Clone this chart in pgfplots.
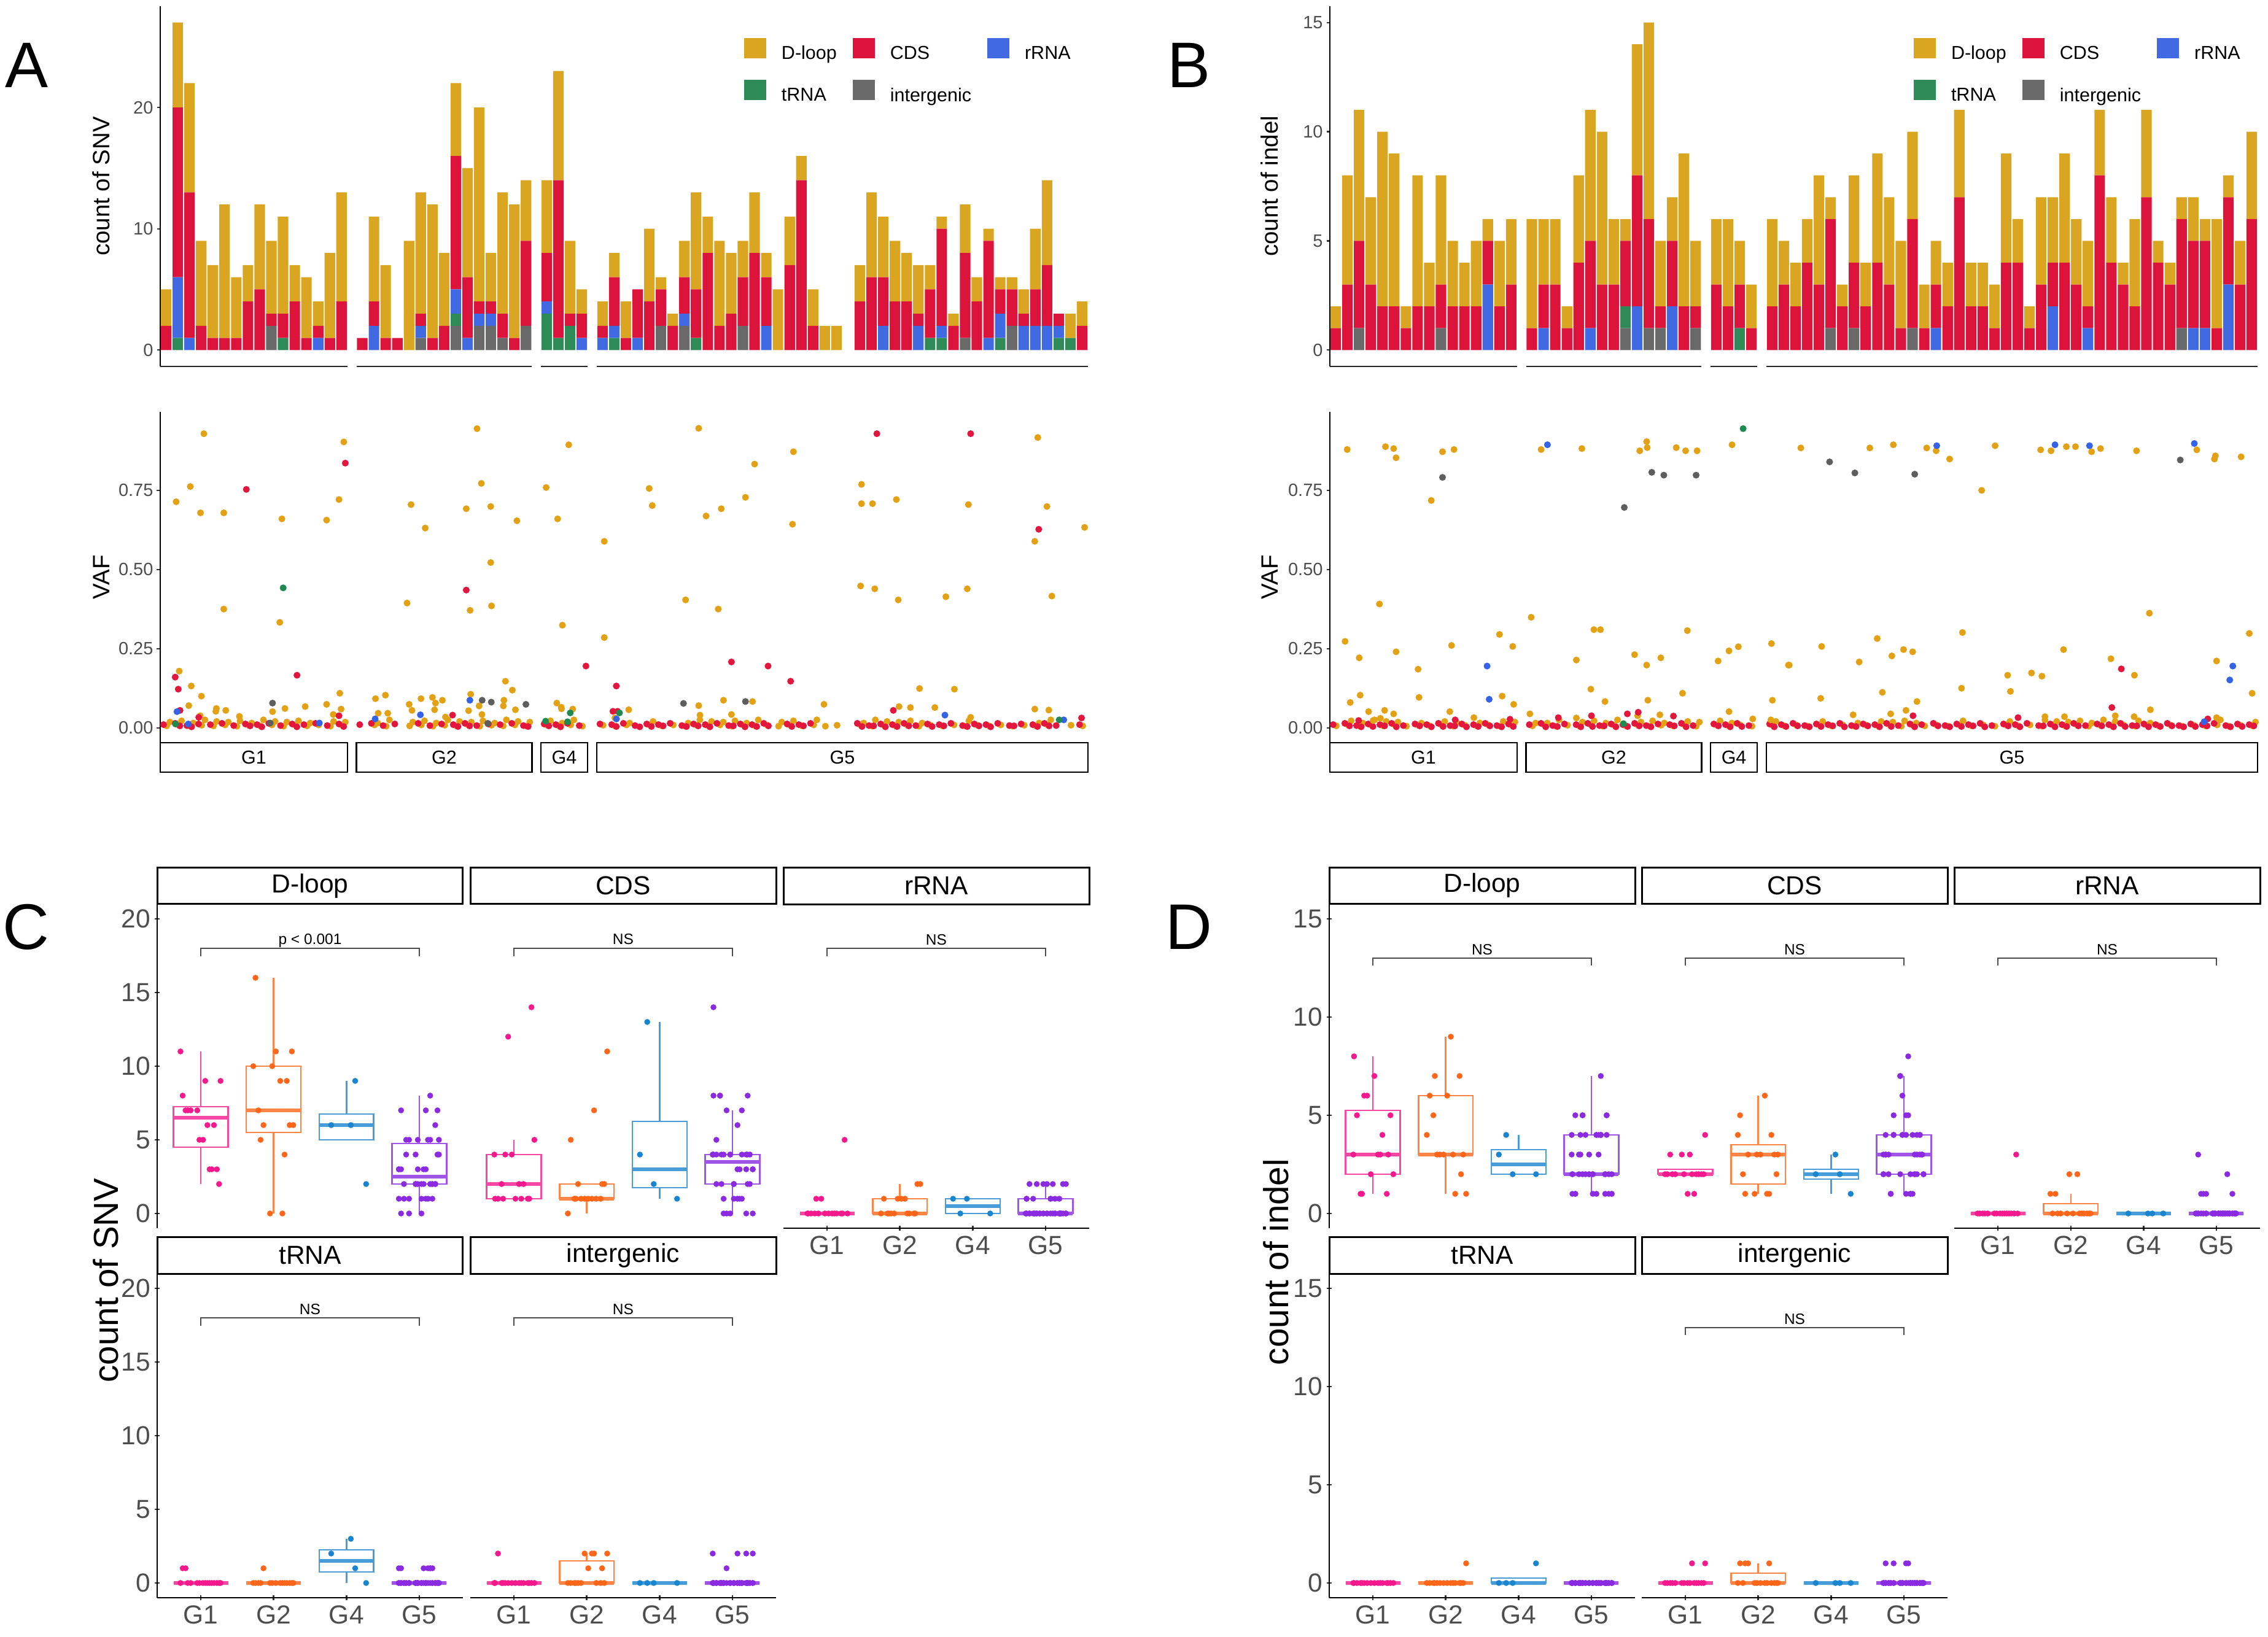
\documentclass[border=0pt]{standalone}
\usepackage{fontspec}
\setmainfont{Liberation Sans}
\usepackage{pgfplots}
\pgfplotsset{compat=1.18}
\usepackage{pgfplotstable}
\usepgfplotslibrary{statistics}

\definecolor{cDL}{HTML}{DAA520}
\definecolor{cCDS}{HTML}{DC143C}
\definecolor{cRR}{HTML}{4169E1}
\definecolor{cTR}{HTML}{2E8B57}
\definecolor{cIG}{HTML}{696969}
\definecolor{pDL}{HTML}{E3A215}
\definecolor{pCDS}{HTML}{E3173E}
\definecolor{pRR}{HTML}{3463E8}
\definecolor{pTR}{HTML}{1E8A52}
\definecolor{pIG}{HTML}{5E5E5E}
\definecolor{cg1}{HTML}{F5198D}
\definecolor{cg2}{HTML}{FF6619}
\definecolor{cg4}{HTML}{1985CF}
\definecolor{cg5}{HTML}{8A2BE2}
\definecolor{tickgray}{HTML}{4D4D4D}

\newcommand{\fsA}{\fontsize{5.8}{7}\selectfont}
\newcommand{\fsT}{\fontsize{7.7}{9}\selectfont}
\newcommand{\fsC}{\fontsize{8.5}{10}\selectfont}
\newcommand{\fsY}{\fontsize{11.3}{13}\selectfont}
\newcommand{\fsS}{\fontsize{4.9}{6}\selectfont}
\newcommand{\fsL}{\fontsize{21}{24}\selectfont}

% per sample counts: SNV (panel A, C)
% bx = bar position, g = group (1 G1, 2 G2, 3 G4, 4 G5), j/k = jitter
% ra rb ga gb = low VAF values of the dense band
\pgfplotstableread{
bx g j k ig tr rr cds dl ra rb ga gb
0.5 1 0.12 -0.17 0 0 0 2 3 0.010 nan 0.006 0.018
1.5 1 -0.21 0.24 0 1 5 14 7 0.014 0.006 0.009 0.022
2.5 1 0.27 -0.08 0 0 1 12 9 0.007 0.003 0.005 0.015
3.5 1 -0.05 0.13 0 0 0 2 7 0.012 nan 0.008 0.025
4.5 1 0.18 -0.26 0 0 0 1 6 0.010 nan 0.006 0.020
5.5 1 -0.28 0.02 0 0 0 1 11 0.014 nan 0.009 0.018
6.5 1 0.03 0.19 0 0 0 1 5 0.007 nan 0.005 0.022
7.5 1 0.22 -0.12 0 0 0 4 3 0.012 0.006 0.008 0.015
8.5 1 -0.14 0.28 0 0 0 5 7 0.010 0.003 0.006 0.025
9.5 1 0.09 -0.22 2 0 0 1 6 0.014 nan 0.009 0.020
10.5 1 -0.25 0.07 0 1 0 2 8 0.007 nan 0.005 0.018
11.5 1 0.15 -0.03 0 0 0 4 3 0.012 0.003 0.008 0.022
12.5 1 -0.02 0.21 0 0 0 1 5 0.010 nan 0.006 0.015
13.5 1 0.25 -0.15 0 0 1 1 2 0.014 nan 0.009 nan
14.5 1 -0.18 0.10 0 0 0 1 7 0.007 nan 0.005 0.020
15.5 1 0.06 -0.27 0 0 0 4 9 0.012 0.004 0.008 0.018
17.27 2 0.12 -0.17 0 0 0 1 0 0.010 nan nan nan
18.27 2 -0.21 0.24 0 0 2 2 7 0.014 nan 0.009 0.015
19.27 2 0.27 -0.08 0 0 0 1 6 0.007 nan 0.005 0.025
20.27 2 -0.05 0.13 0 0 0 1 0 0.012 nan nan nan
21.27 2 0.18 -0.26 0 0 0 0 9 nan nan 0.006 0.018
22.27 2 -0.28 0.02 1 0 1 1 10 0.014 nan 0.009 0.022
23.27 2 0.03 0.19 0 0 0 1 11 0.007 nan 0.005 0.015
24.27 2 0.22 -0.12 0 0 0 2 6 0.012 nan 0.008 0.025
25.27 2 -0.14 0.28 2 1 2 11 6 0.010 0.004 0.006 0.020
26.27 2 0.09 -0.22 0 0 1 5 9 0.014 0.006 0.009 0.018
27.27 2 -0.25 0.07 2 0 1 1 16 0.007 nan 0.005 0.022
28.27 2 0.15 -0.03 2 0 1 1 4 0.012 nan 0.008 0.015
29.27 2 -0.02 0.21 1 0 0 2 10 0.010 nan 0.006 0.025
30.27 2 0.25 -0.15 0 0 0 1 11 0.014 nan 0.009 0.020
31.27 2 -0.18 0.10 2 0 0 7 5 0.007 0.004 0.005 0.018
33.04 3 0.06 -0.27 0 3 1 4 6 0.012 0.006 0.008 0.022
34.04 3 0.12 -0.17 0 1 0 13 9 0.010 0.003 0.006 0.015
35.04 3 -0.21 0.24 0 2 0 1 6 0.014 nan 0.009 0.025
36.04 3 0.27 -0.08 0 0 1 2 2 0.007 nan 0.005 nan
37.81 4 -0.05 0.13 0 0 1 1 2 0.012 nan 0.008 nan
38.81 4 0.18 -0.26 0 1 1 4 2 0.010 0.004 0.006 nan
39.81 4 -0.28 0.02 0 0 0 1 3 0.014 nan 0.009 0.015
40.81 4 0.03 0.19 0 0 1 4 0 0.007 0.003 nan nan
41.81 4 0.22 -0.12 0 0 0 4 6 0.012 0.004 0.008 0.020
42.81 4 -0.14 0.28 2 0 0 3 1 0.010 0.006 0.006 nan
43.81 4 0.09 -0.22 0 0 0 2 1 0.014 nan 0.009 nan
44.81 4 -0.25 0.07 2 0 1 3 3 0.007 0.004 0.005 0.015
45.81 4 0.15 -0.03 0 1 0 4 8 0.012 0.006 0.008 0.025
46.81 4 -0.02 0.21 0 0 0 8 3 0.010 0.003 0.006 0.020
47.81 4 0.25 -0.15 0 0 0 2 7 0.014 nan 0.009 0.018
48.81 4 -0.18 0.10 0 0 0 3 5 0.007 0.006 0.005 0.022
49.81 4 0.06 -0.27 2 0 0 4 3 0.012 0.003 0.008 0.015
50.81 4 0.12 -0.17 0 0 0 8 5 0.010 0.004 0.006 0.025
51.81 4 -0.21 0.24 0 0 2 4 2 0.014 0.006 0.009 nan
52.81 4 0.27 -0.08 0 0 0 0 5 nan nan 0.005 0.018
53.81 4 -0.05 0.13 0 0 0 7 4 0.012 0.004 0.008 0.022
54.81 4 0.18 -0.26 0 0 0 14 2 0.010 0.006 0.006 nan
55.81 4 -0.28 0.02 0 0 0 2 3 0.014 nan 0.009 0.025
56.81 4 0.03 0.19 0 0 0 0 2 nan nan 0.005 nan
57.81 4 0.22 -0.12 0 0 0 0 2 nan nan 0.008 nan
58.81 4 -0.14 0.28 0 0 0 0 0 nan nan nan nan
59.81 4 0.09 -0.22 0 0 0 4 3 0.014 0.004 0.009 0.015
60.81 4 -0.25 0.07 0 0 0 6 7 0.007 0.006 0.005 0.025
61.81 4 0.15 -0.03 0 0 2 4 5 0.012 0.003 0.008 0.020
62.81 4 -0.02 0.21 0 0 0 4 5 0.010 0.004 0.006 0.018
63.81 4 0.25 -0.15 0 0 0 4 4 0.014 0.006 0.009 0.022
64.81 4 -0.18 0.10 0 0 2 1 4 0.007 nan 0.005 0.015
65.81 4 0.06 -0.27 0 1 0 4 2 0.012 0.004 0.008 nan
66.81 4 0.12 -0.17 0 1 1 8 1 0.010 0.006 0.006 nan
67.81 4 -0.21 0.24 0 0 0 2 1 0.014 nan 0.009 nan
68.81 4 0.27 -0.08 1 0 0 7 4 0.007 0.004 0.005 0.022
69.81 4 -0.05 0.13 0 0 0 4 2 0.012 0.006 0.008 nan
70.81 4 0.18 -0.26 0 0 1 8 1 0.010 0.003 0.006 nan
71.81 4 -0.28 0.02 0 1 2 2 1 0.014 nan 0.009 nan
72.81 4 0.03 0.19 2 0 0 3 1 0.007 0.006 0.005 nan
73.81 4 0.22 -0.12 0 0 2 1 2 0.012 nan 0.008 nan
74.81 4 -0.14 0.28 0 0 2 3 5 0.010 0.004 0.006 0.015
75.81 4 0.09 -0.22 0 0 2 5 7 0.014 0.006 0.009 0.025
76.81 4 -0.25 0.07 0 1 1 1 0 0.007 nan nan nan
77.81 4 0.15 -0.03 0 1 0 0 2 nan nan 0.008 nan
78.81 4 -0.02 0.21 0 0 0 2 2 0.010 nan 0.006 nan
}\snv

% per sample counts: indel (panel B, D)
\pgfplotstableread{
bx g j k ig tr rr cds dl ra rb ga gb
0.5 1 -0.17 0.12 0 0 0 1 1 0.010 nan 0.006 nan
1.5 1 0.24 -0.21 0 0 0 3 5 0.014 0.006 0.009 0.022
2.5 1 -0.08 0.27 1 0 0 4 6 0.007 0.003 0.005 0.015
3.5 1 0.13 -0.05 0 0 0 3 4 0.012 0.004 0.008 0.025
4.5 1 -0.26 0.18 0 0 0 2 8 0.010 0.006 0.006 0.020
5.5 1 0.02 -0.28 0 0 0 2 7 0.014 0.003 0.009 0.018
6.5 1 0.19 0.03 0 0 0 1 1 0.007 nan 0.005 nan
7.5 1 -0.12 0.22 0 0 0 2 6 0.012 0.006 0.008 0.015
8.5 1 0.28 -0.14 0 0 0 2 2 0.010 0.003 0.006 nan
9.5 1 -0.22 0.09 1 0 0 2 5 0.014 0.004 0.009 0.020
10.5 1 0.07 -0.25 0 0 0 2 3 0.007 0.006 0.005 0.018
11.5 1 -0.03 0.15 0 0 0 2 2 0.012 0.003 0.008 nan
12.5 1 0.21 -0.02 0 0 0 2 3 0.010 0.004 0.006 0.015
13.5 1 -0.15 0.25 0 0 3 2 1 0.014 0.006 0.009 nan
14.5 1 0.10 -0.18 0 0 0 2 3 0.007 0.003 0.005 0.020
15.5 1 -0.27 0.06 0 0 0 3 3 0.012 0.004 0.008 0.018
17.27 2 -0.17 0.12 0 0 0 1 5 0.010 nan 0.006 0.015
18.27 2 0.24 -0.21 0 0 1 2 3 0.014 0.003 0.009 0.015
19.27 2 -0.08 0.27 0 0 0 3 3 0.007 0.004 0.005 0.025
20.27 2 0.13 -0.05 0 0 0 1 1 0.012 nan 0.008 nan
21.27 2 -0.26 0.18 0 0 0 4 4 0.010 0.003 0.006 0.018
22.27 2 0.02 -0.28 0 0 1 4 6 0.014 0.004 0.009 0.022
23.27 2 0.19 0.03 0 0 0 3 7 0.007 0.006 0.005 0.015
24.27 2 -0.12 0.22 0 0 0 3 3 0.012 0.003 0.008 0.025
25.27 2 0.28 -0.14 1 1 0 3 1 0.010 0.004 0.006 nan
26.27 2 -0.22 0.09 0 0 2 6 6 0.014 0.006 0.009 0.018
27.27 2 0.07 -0.25 1 0 0 5 9 0.007 0.003 0.005 0.022
28.27 2 -0.03 0.15 1 0 0 1 3 0.012 nan 0.008 0.015
29.27 2 0.21 -0.02 0 0 2 3 2 0.010 0.006 0.006 nan
30.27 2 -0.15 0.25 0 0 0 2 7 0.014 0.003 0.009 0.020
31.27 2 0.10 -0.18 1 0 0 1 3 0.007 nan 0.005 0.018
33.04 3 -0.27 0.06 0 0 0 3 3 0.012 0.006 0.008 0.022
34.04 3 -0.17 0.12 0 0 0 2 4 0.010 0.003 0.006 0.015
35.04 3 0.24 -0.21 0 1 0 2 2 0.014 0.004 0.009 nan
36.04 3 -0.08 0.27 0 0 0 1 2 0.007 nan 0.005 nan
37.81 4 0.13 -0.05 0 0 0 2 4 0.012 0.003 0.008 0.020
38.81 4 -0.26 0.18 0 0 0 3 2 0.010 0.004 0.006 nan
39.81 4 0.02 -0.28 0 0 0 2 2 0.014 0.006 0.009 nan
40.81 4 0.19 0.03 0 0 0 4 2 0.007 0.003 0.005 nan
41.81 4 -0.12 0.22 0 0 0 3 5 0.012 0.004 0.008 0.020
42.81 4 0.28 -0.14 1 0 0 5 1 0.010 0.006 0.006 nan
43.81 4 -0.22 0.09 0 0 0 2 1 0.014 0.003 0.009 nan
44.81 4 0.07 -0.25 1 0 0 3 4 0.007 0.004 0.005 0.015
45.81 4 -0.03 0.15 0 0 0 2 2 0.012 0.006 0.008 nan
46.81 4 0.21 -0.02 0 0 0 4 5 0.010 0.003 0.006 0.020
47.81 4 -0.15 0.25 0 0 0 3 4 0.014 0.004 0.009 0.018
48.81 4 0.10 -0.18 0 0 0 1 4 0.007 nan 0.005 0.022
49.81 4 -0.27 0.06 1 0 0 5 4 0.012 0.003 0.008 0.015
50.81 4 -0.17 0.12 0 0 0 1 2 0.010 nan 0.006 nan
51.81 4 0.24 -0.21 0 0 1 2 2 0.014 0.006 0.009 nan
52.81 4 -0.08 0.27 0 0 0 2 2 0.007 0.003 0.005 nan
53.81 4 0.13 -0.05 0 0 0 7 4 0.012 0.004 0.008 0.022
54.81 4 -0.26 0.18 0 0 0 2 2 0.010 0.006 0.006 nan
55.81 4 0.02 -0.28 0 0 0 2 2 0.014 0.003 0.009 nan
56.81 4 0.19 0.03 0 0 0 1 2 0.007 nan 0.005 nan
57.81 4 -0.12 0.22 0 0 0 4 5 0.012 0.006 0.008 0.020
58.81 4 0.28 -0.14 0 0 0 4 2 0.010 0.003 0.006 nan
59.81 4 -0.22 0.09 0 0 0 1 1 0.014 nan 0.009 nan
60.81 4 0.07 -0.25 0 0 0 3 4 0.007 0.006 0.005 0.025
61.81 4 -0.03 0.15 0 0 2 2 3 0.012 0.003 0.008 0.020
62.81 4 0.21 -0.02 0 0 0 4 5 0.010 0.004 0.006 0.018
63.81 4 -0.15 0.25 0 0 0 3 3 0.014 0.006 0.009 0.022
64.81 4 0.10 -0.18 0 0 1 1 3 0.007 nan 0.005 0.015
65.81 4 -0.27 0.06 0 0 0 8 3 0.012 0.006 0.008 0.025
66.81 4 -0.17 0.12 0 0 0 4 3 0.010 0.003 0.006 0.020
67.81 4 0.24 -0.21 0 0 0 3 1 0.014 0.004 0.009 nan
68.81 4 -0.08 0.27 0 0 0 2 4 0.007 0.006 0.005 0.022
69.81 4 0.13 -0.05 0 0 0 7 4 0.012 0.003 0.008 0.015
70.81 4 -0.26 0.18 0 0 0 4 1 0.010 0.004 0.006 nan
71.81 4 0.02 -0.28 0 0 0 3 1 0.014 0.006 0.009 nan
72.81 4 0.19 0.03 1 0 0 5 1 0.007 0.003 0.005 nan
73.81 4 -0.12 0.22 0 0 1 4 2 0.012 0.004 0.008 nan
74.81 4 0.28 -0.14 0 0 1 4 1 0.010 0.006 0.006 nan
75.81 4 -0.22 0.09 0 0 0 1 5 0.014 nan 0.009 0.025
76.81 4 0.07 -0.25 0 0 3 4 1 0.007 0.003 0.005 nan
77.81 4 -0.03 0.15 0 0 0 3 2 0.012 0.004 0.008 nan
78.81 4 0.21 -0.02 0 0 0 6 4 0.010 0.006 0.006 0.018
}\ind

\pgfplotsset{
  sqleg/.style={legend image code/.code={\fill[##1] (0pt,-1.1pt) rectangle (7.2pt,5.5pt);}},
  barax/.style={scale only axis, anchor=south west, width=302.2pt, height=117.4pt,
    xmin=0, xmax=79.31, clip=false, axis x line=none, axis y line=left,
    axis line style={-, line width=0.45pt, black}, tick align=outside,
    tick style={line width=0.45pt, black!80}, major tick length=1.1pt,
    tick label style={font=\fsA, text=tickgray}, yticklabel style={inner sep=1pt},
    ybar stacked, bar width=0.9, every axis plot post/.append style={sqleg},
    legend columns=3, reverse legend, legend cell align=left,
    legend style={at={(0.6287,0.9131)}, anchor=north west, draw=none, fill=none,
      inner sep=0pt, font=\fontsize{6.1}{7}\selectfont, row sep=5.2pt, nodes={inner sep=0pt},
      /tikz/every odd column/.append style={column sep=5pt},
      /tikz/every even column/.append style={column sep=5.2pt}}},
  vafax/.style={scale only axis, anchor=south west, width=302.2pt, height=107.8pt,
    xmin=0, xmax=79.31, ymin=-0.0475, ymax=0.9975, clip=false,
    axis x line=none, axis y line=left,
    axis line style={-, line width=0.45pt, black}, tick align=outside,
    tick style={line width=0.45pt, black!80}, major tick length=1.1pt,
    tick label style={font=\fsA, text=tickgray}, yticklabel style={inner sep=1pt},
    ytick={0,0.25,0.5,0.75}, yticklabels={0.00,0.25,0.50,0.75}},
  vp/.style={only marks, mark=*, mark size=0.9pt, mark options={draw=none}},
  fac/.style={scale only axis, anchor=south west, width=99.6pt, height=105.6pt,
    xmin=0.4, xmax=4.6, clip=false, tick align=outside,
    tick style={line width=0.5pt, black!80}, major tick length=1.7pt,
    tick label style={font=\fsC, text=tickgray}, yticklabel style={inner sep=1.2pt},
    xticklabel style={inner sep=1.5pt},
    xtick={1,2,3,4}, xticklabels={G1,G2,G4,G5},
    boxplot/every median/.style={line width=1.1pt}},
  facC/.style={fac, ymin=-1, ymax=21, ytick={0,5,10,15,20}, yticklabels={0,5,10,15,20}},
  facD/.style={fac, ymin=-0.75, ymax=15.75, ytick={0,5,10,15}, yticklabels={0,5,10,15}},
  yonly/.style={axis y line=left, axis x line=none, axis line style={-, line width=0.5pt, black}},
  xonly/.style={axis x line=bottom, axis y line=none, axis line style={-, line width=0.5pt, black}},
  bothax/.style={axis x line=bottom, axis y line=left, axis line style={-, line width=0.5pt, black}},
  noax/.style={hide axis},
}

% box from prepared quartiles: colour, position, lw, lq, median, uq, uw
\newcommand{\bp}[7]{\addplot[draw=#1!80, fill=white, line width=0.5pt,
  boxplot/draw direction=y,
  boxplot prepared={draw position=#2, lower whisker=#3, lower quartile=#4,
  median=#5, upper quartile=#6, upper whisker=#7, box extend=0.75,
  whisker extend=0}] coordinates {};}
% jittered points: table, column, jitter column
\newcommand{\jit}[3]{\addplot[scatter, only marks, mark=*, mark size=0.75pt,
  scatter src=explicit symbolic,
  scatter/classes={1={cg1},2={cg2},3={cg4},4={cg5}}]
  table[x expr=\thisrow{g}+\thisrow{#3}, y=#2, meta=g] {#1};}
\newcommand{\brk}[4]{\draw[line width=0.45pt, black!70] (axis cs:1,#1) -- (axis cs:1,#2)
  -- (axis cs:4,#2) -- (axis cs:4,#1);
  \node[anchor=base, font=\fsS, inner sep=0pt] at (axis cs:2.5,#3) {#4};}
\newcommand{\fstrip}[1]{\draw[fill=white, line width=0.6pt] (rel axis cs:0,1) rectangle (rel axis cs:1,1.1136);
  \node[font=\fsC] at (rel axis cs:0.5,1.0568) {#1};}
\newcommand{\vstrip}[4]{\draw[fill=white, line width=0.5pt] (axis cs:#1,-0.0475) rectangle (axis cs:#2,-0.1405);
  \node[font=\fontsize{6.1}{7}\selectfont] at (axis cs:#3,-0.094) {#4};}

\begin{document}
\begin{tikzpicture}
\useasboundingbox (0,0) rectangle (738.8pt,533.2pt);

% ---------------- A: SNV counts ----------------
\begin{axis}[barax, at={(52.2pt,413.8pt)}, ymin=-1.35, ymax=28.35,
  ytick={0,10,20}, yticklabels={0,10,20}]
\addplot[fill=cIG, draw=none] table[x=bx, y=ig] {\snv};
\addplot[fill=cTR, draw=none] table[x=bx, y=tr] {\snv};
\addplot[fill=cRR, draw=none] table[x=bx, y=rr] {\snv};
\addplot[fill=cCDS, draw=none] table[x=bx, y=cds] {\snv};
\addplot[fill=cDL, draw=none] table[x=bx, y=dl] {\snv};
\legend{intergenic,tRNA,rRNA,CDS,D-loop}
\draw[line width=0.45pt, black!85] (axis cs:0,-1.35) -- (axis cs:16,-1.35);
\draw[line width=0.45pt, black!85] (axis cs:16.77,-1.35) -- (axis cs:31.77,-1.35);
\draw[line width=0.45pt, black!85] (axis cs:32.54,-1.35) -- (axis cs:36.54,-1.35);
\draw[line width=0.45pt, black!85] (axis cs:37.31,-1.35) -- (axis cs:79.31,-1.35);
\end{axis}

% ---------------- A: VAF ----------------
\begin{axis}[vafax, at={(52.2pt,291.16pt)}]
\addplot[vp, pDL] table[x expr=\thisrow{bx}+0.05, y=ga] {\snv};
\addplot[vp, pDL] table[x expr=\thisrow{bx}+0.32, y=gb] {\snv};
\addplot[vp, pCDS] table[x expr=\thisrow{bx}-0.22, y=ra] {\snv};
\addplot[vp, pCDS] table[x expr=\thisrow{bx}+0.18, y=rb] {\snv};
\addplot[vp, pDL] coordinates {
(3.73,0.929) (15.69,0.903) (2.57,0.762) (1.36,0.714) (3.44,0.679) (5.43,0.679)
(15.28,0.721) (10.40,0.660) (14.22,0.656) (5.43,0.375) (10.22,0.333) (1.62,0.179)
(2.65,0.132) (3.52,0.100) (2.44,0.070) (15.35,0.109) (14.22,0.074) (12.39,0.067)
(10.66,0.061) (4.80,0.061) (4.75,0.052) (5.60,0.055) (9.60,0.051) (15.46,0.059)
(3.42,0.038) (6.77,0.036) (14.79,0.042)
(27.08,0.945) (27.45,0.772) (21.44,0.705) (26.16,0.692) (28.25,0.699) (22.65,0.631)
(30.49,0.654) (28.25,0.522) (21.10,0.394) (26.49,0.371) (28.32,0.385) (29.51,0.147)
(30.10,0.119) (19.25,0.103) (18.40,0.092) (22.29,0.092) (23.27,0.096) (24.12,0.087)
(23.53,0.078) (21.28,0.074) (26.54,0.106) (29.38,0.087) (29.33,0.069) (27.26,0.069)
(23.45,0.057) (21.52,0.055) (18.63,0.046) (19.45,0.046) (26.36,0.054) (30.36,0.057)
(27.50,0.042) (24.38,0.034)
(34.92,0.894) (32.99,0.759) (33.97,0.660) (34.38,0.324) (33.90,0.078) (34.28,0.065)
(34.30,0.060) (35.26,0.059)
(37.96,0.589) (37.96,0.285) (38.87,0.031) (46.03,0.946) (75.02,0.917) (54.13,0.872)
(50.81,0.833) (41.80,0.756) (59.95,0.769) (42.06,0.702) (50.03,0.728) (59.95,0.708)
(60.89,0.708) (62.93,0.721) (69.09,0.705) (75.80,0.699) (46.66,0.669) (47.96,0.692)
(54.05,0.643) (74.76,0.589) (79.02,0.633) (44.91,0.404) (47.70,0.375) (59.87,0.448)
(61.08,0.439) (63.09,0.404) (67.16,0.414) (68.99,0.439) (76.22,0.416) (64.91,0.124)
(67.89,0.122) (48.15,0.087) (50.63,0.083) (46.03,0.070) (56.74,0.074) (63.16,0.067)
(64.13,0.064) (66.22,0.064) (74.76,0.059) (75.96,0.056) (40.05,0.057) (46.14,0.040)
(48.83,0.042) (69.28,0.033)};
\addplot[vp, pCDS] coordinates {
(15.82,0.836) (7.36,0.753) (11.69,0.166) (1.28,0.160) (1.54,0.122) (1.69,0.055)
(3.29,0.033) (15.28,0.038) (26.16,0.435) (24.99,0.040) (36.39,0.195) (38.99,0.132)
(38.70,0.052) (39.10,0.052) (61.26,0.929) (69.28,0.929) (75.10,0.627) (48.83,0.208)
(51.96,0.195) (53.89,0.147) (62.67,0.055) (78.76,0.031)};
\addplot[vp, pRR] coordinates {
(1.43,0.051) (26.47,0.087) (22.24,0.041) (18.37,0.028) (39.00,0.028) (67.08,0.040)
(77.24,0.025) (13.60,0.015) (2.40,0.012)};
\addplot[vp, pTR] coordinates {
(10.51,0.442) (35.05,0.047) (32.94,0.021) (34.82,0.019) (39.26,0.047) (76.85,0.025)
(1.30,0.012)};
\addplot[vp, pIG] coordinates {
(9.60,0.078) (27.52,0.087) (28.30,0.081) (31.26,0.074) (44.73,0.077) (50.03,0.083)
(9.40,0.015) (28.00,0.014)};
\vstrip{0}{16}{8}{G1}
\vstrip{16.77}{31.77}{24.27}{G2}
\vstrip{32.54}{36.54}{34.54}{G4}
\vstrip{37.31}{79.31}{58.31}{G5}
\end{axis}

% ---------------- B: indel counts ----------------
\begin{axis}[barax, at={(433.2pt,413.8pt)}, ymin=-0.75, ymax=15.75,
  ytick={0,5,10,15}, yticklabels={0,5,10,15}]
\addplot[fill=cIG, draw=none] table[x=bx, y=ig] {\ind};
\addplot[fill=cTR, draw=none] table[x=bx, y=tr] {\ind};
\addplot[fill=cRR, draw=none] table[x=bx, y=rr] {\ind};
\addplot[fill=cCDS, draw=none] table[x=bx, y=cds] {\ind};
\addplot[fill=cDL, draw=none] table[x=bx, y=dl] {\ind};
\legend{intergenic,tRNA,rRNA,CDS,D-loop}
\draw[line width=0.45pt, black!85] (axis cs:0,-0.75) -- (axis cs:16,-0.75);
\draw[line width=0.45pt, black!85] (axis cs:16.77,-0.75) -- (axis cs:31.77,-0.75);
\draw[line width=0.45pt, black!85] (axis cs:32.54,-0.75) -- (axis cs:36.54,-0.75);
\draw[line width=0.45pt, black!85] (axis cs:37.31,-0.75) -- (axis cs:79.31,-0.75);
\end{axis}

% ---------------- B: VAF ----------------
\begin{axis}[vafax, at={(433.2pt,291.16pt)}]
\addplot[vp, pDL] table[x expr=\thisrow{bx}+0.05, y=ga] {\ind};
\addplot[vp, pDL] table[x expr=\thisrow{bx}+0.32, y=gb] {\ind};
\addplot[vp, pCDS] table[x expr=\thisrow{bx}-0.22, y=ra] {\ind};
\addplot[vp, pCDS] table[x expr=\thisrow{bx}+0.18, y=rb] {\ind};
\addplot[vp, pDL] coordinates {
(1.48,0.879) (4.75,0.888) (5.45,0.882) (5.66,0.853) (9.63,0.872) (10.61,0.879)
(8.67,0.718) (4.24,0.391) (1.30,0.273) (2.51,0.221) (5.66,0.240) (7.54,0.185)
(10.40,0.260) (14.50,0.295) (15.63,0.257) (1.74,0.080) (2.59,0.103) (3.31,0.051)
(4.68,0.055) (5.45,0.044) (7.62,0.096) (14.73,0.100) (15.71,0.074) (10.25,0.051)
(12.31,0.032) (4.32,0.030) (3.70,0.023)
(18.06,0.879) (21.54,0.882) (26.49,0.875) (27.08,0.904) (27.13,0.885) (29.61,0.885)
(30.41,0.875) (31.39,0.875) (17.21,0.349) (22.57,0.310) (23.13,0.310) (30.56,0.307)
(21.07,0.214) (26.05,0.231) (27.08,0.198) (28.29,0.221) (22.31,0.122) (23.52,0.083)
(27.18,0.087) (30.15,0.109) (17.10,0.044) (26.31,0.038) (28.21,0.041) (21.07,0.031)
(34.38,0.894) (33.19,0.211) (34.12,0.243) (34.92,0.256) (34.12,0.051) (36.15,0.028)
(37.75,0.266) (39.20,0.198) (37.83,0.087) (37.70,0.025) (40.26,0.884) (46.16,0.884)
(48.17,0.894) (51.02,0.884) (51.83,0.875) (52.98,0.849) (56.87,0.891) (60.76,0.878)
(61.65,0.875) (62.96,0.888) (63.74,0.888) (65.12,0.872) (65.88,0.882) (68.96,0.875)
(74.11,0.878) (75.70,0.859) (75.62,0.849) (77.90,0.856) (55.72,0.750) (70.06,0.362)
(54.08,0.301) (78.60,0.298) (46.79,0.282) (42.04,0.257) (49.04,0.247) (49.82,0.240)
(48.04,0.227) (62.72,0.247) (39.27,0.198) (45.25,0.208) (66.77,0.218) (68.78,0.166)
(75.80,0.211) (57.94,0.166) (59.98,0.173) (60.87,0.163) (58.18,0.115) (54.00,0.125)
(47.23,0.112) (41.96,0.093) (50.19,0.083) (78.84,0.109) (70.14,0.057) (49.25,0.055)
(44.73,0.041) (47.94,0.044) (67.14,0.038) (61.13,0.035) (62.80,0.035) (68.75,0.035)
(75.80,0.032)};
\addplot[vp, pCDS] coordinates {
(2.46,0.023) (10.71,0.025) (15.40,0.027) (19.53,0.032) (22.36,0.038) (25.43,0.044)
(26.36,0.049) (29.37,0.037) (67.66,0.186) (66.85,0.064) (49.85,0.038) (58.83,0.032)
(75.05,0.028)};
\addplot[vp, pRR] coordinates {
(13.44,0.195) (13.62,0.090) (18.60,0.894) (51.88,0.891) (61.99,0.894) (64.94,0.891)
(73.90,0.898) (77.19,0.195) (76.93,0.151) (74.74,0.019)};
\addplot[vp, pTR] coordinates {(35.33,0.945) (25.10,0.013)};
\addplot[vp, pIG] coordinates {
(9.63,0.791) (27.52,0.807) (28.55,0.798) (31.31,0.798) (25.17,0.696) (42.72,0.840)
(44.88,0.805) (50.00,0.801) (72.70,0.846)};
\vstrip{0}{16}{8}{G1}
\vstrip{16.77}{31.77}{24.27}{G2}
\vstrip{32.54}{36.54}{34.54}{G4}
\vstrip{37.31}{79.31}{58.31}{G5}
\end{axis}

% ---------------- C: SNV by region ----------------
\begin{axis}[facC, yonly, at={(51.2pt,133pt)}]
\fstrip{D-loop}
\bp{cg1}{1}{2}{4.5}{6.5}{7.25}{11}
\bp{cg2}{2}{0}{5.5}{7}{10}{16}
\bp{cg4}{3}{5}{5}{6}{6.75}{9}
\bp{cg5}{4}{0}{2}{2.5}{4.75}{8}
\jit{\snv}{dl}{j}
\brk{17.45}{18}{18.25}{p < 0.001}
\end{axis}
\begin{axis}[facC, noax, at={(153.2pt,133pt)}]
\fstrip{CDS}
\bp{cg1}{1}{1}{1}{2}{4}{5}
\bp{cg2}{2}{0}{1}{1}{2}{2}
\bp{cg4}{3}{1}{1.75}{3}{6.25}{13}
\bp{cg5}{4}{0}{2}{3.5}{4}{7}
\jit{\snv}{cds}{k}
\brk{17.45}{18}{18.25}{NS}
\end{axis}
\begin{axis}[facC, xonly, at={(255.2pt,133pt)}]
\fstrip{rRNA}
\bp{cg1}{1}{0}{0}{0}{0}{0}
\bp{cg2}{2}{0}{0}{0}{1}{2}
\bp{cg4}{3}{0}{0}{0.5}{1}{1}
\bp{cg5}{4}{0}{0}{0}{1}{2}
\jit{\snv}{rr}{k}
\brk{17.45}{18}{18.25}{NS}
\end{axis}
\begin{axis}[facC, bothax, at={(51.2pt,12.6pt)}]
\fstrip{tRNA}
\bp{cg1}{1}{0}{0}{0}{0}{0}
\bp{cg2}{2}{0}{0}{0}{0}{0}
\bp{cg4}{3}{0}{0.75}{1.5}{2.25}{3}
\bp{cg5}{4}{0}{0}{0}{0}{0}
\jit{\snv}{tr}{j}
\brk{17.45}{18}{18.25}{NS}
\end{axis}
\begin{axis}[facC, xonly, at={(153.2pt,12.6pt)}]
\fstrip{intergenic}
\bp{cg1}{1}{0}{0}{0}{0}{0}
\bp{cg2}{2}{0}{0}{0}{1.5}{2}
\bp{cg4}{3}{0}{0}{0}{0}{0}
\bp{cg5}{4}{0}{0}{0}{0}{0}
\jit{\snv}{ig}{k}
\brk{17.45}{18}{18.25}{NS}
\end{axis}

% ---------------- D: indel by region ----------------
\begin{axis}[facD, yonly, at={(433pt,133pt)}]
\fstrip{D-loop}
\bp{cg1}{1}{1}{2}{3}{5.25}{8}
\bp{cg2}{2}{1}{3}{3}{6}{9}
\bp{cg4}{3}{2}{2}{2.5}{3.25}{4}
\bp{cg5}{4}{1}{2}{2}{4}{7}
\jit{\ind}{dl}{j}
\addplot[only marks, mark=*, mark size=0.75pt, cg5] coordinates {(4.13,7)};
\brk{12.63}{13}{13.18}{NS}
\end{axis}
\begin{axis}[facD, noax, at={(534.8pt,133pt)}]
\fstrip{CDS}
\bp{cg1}{1}{2}{2}{2}{2.25}{2.25}
\bp{cg2}{2}{1}{1.5}{3}{3.5}{6}
\bp{cg4}{3}{1}{1.75}{2}{2.25}{3}
\bp{cg5}{4}{1}{2}{3}{4}{7}
\jit{\ind}{cds}{k}
\brk{12.63}{13}{13.18}{NS}
\end{axis}
\begin{axis}[facD, xonly, at={(636.6pt,133pt)}]
\fstrip{rRNA}
\bp{cg1}{1}{0}{0}{0}{0}{0}
\bp{cg2}{2}{0}{0}{0}{0.5}{1}
\bp{cg4}{3}{0}{0}{0}{0}{0}
\bp{cg5}{4}{0}{0}{0}{0}{0}
\jit{\ind}{rr}{k}
\brk{12.63}{13}{13.18}{NS}
\end{axis}
\begin{axis}[facD, bothax, at={(433pt,12.6pt)}]
\fstrip{tRNA}
\bp{cg1}{1}{0}{0}{0}{0}{0}
\bp{cg2}{2}{0}{0}{0}{0}{0}
\bp{cg4}{3}{0}{0}{0}{0.25}{0.25}
\bp{cg5}{4}{0}{0}{0}{0}{0}
\jit{\ind}{tr}{j}
\end{axis}
\begin{axis}[facD, xonly, at={(534.8pt,12.6pt)}]
\fstrip{intergenic}
\bp{cg1}{1}{0}{0}{0}{0}{0}
\bp{cg2}{2}{0}{0}{0}{0.5}{1}
\bp{cg4}{3}{0}{0}{0}{0}{0}
\bp{cg5}{4}{0}{0}{0}{0}{0}
\jit{\ind}{ig}{k}
\brk{12.63}{13}{13.18}{NS}
\end{axis}

% ---------------- titles and panel letters ----------------
\node[rotate=90, font=\fsT] at (33pt,472.5pt) {count of SNV};
\node[rotate=90, font=\fsT] at (33pt,345.1pt) {VAF};
\node[rotate=90, font=\fsT] at (413.6pt,472.5pt) {count of indel};
\node[rotate=90, font=\fsT] at (413.6pt,345.1pt) {VAF};
\node[rotate=90, font=\fsY] at (34.4pt,116pt) {count of SNV};
\node[rotate=90, font=\fsY] at (415.6pt,122pt) {count of indel};
\node[font=\fsL] at (8.7pt,512pt) {A};
\node[font=\fsL] at (387.3pt,512pt) {B};
\node[font=\fsL] at (8.4pt,231.2pt) {C};
\node[font=\fsL] at (387.3pt,231.2pt) {D};
\end{tikzpicture}
\end{document}
